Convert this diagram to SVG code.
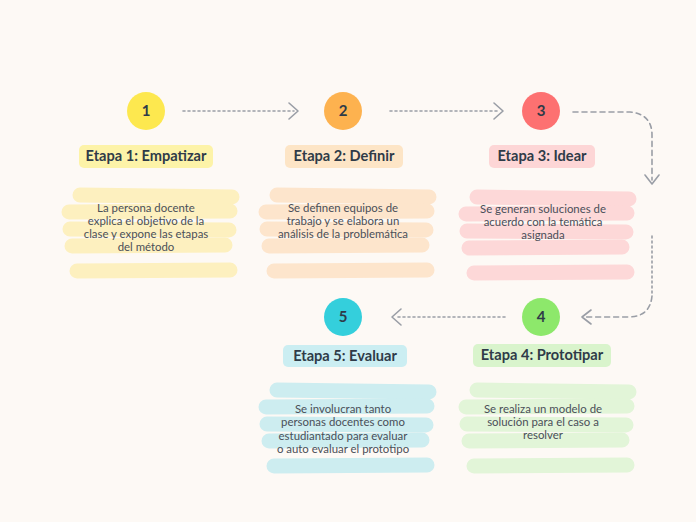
<svg xmlns="http://www.w3.org/2000/svg" width="696" height="522" viewBox="0 0 696 522">
<style>
.num{font-family:Lato,"Open Sans",sans-serif;font-weight:700;font-size:15px;fill:#2f3b48;text-anchor:middle}
.title{font-family:Lato,"Open Sans",sans-serif;font-weight:700;font-size:14.6px;fill:#2f3b48;text-anchor:middle}
.body{font-family:Lato,"Open Sans",sans-serif;font-size:11.4px;fill:#4a4f58;text-anchor:middle}
.conn{fill:none;stroke:#9a9ea6;stroke-width:1.6;stroke-dasharray:2 3;stroke-linecap:round}
.dash{fill:none;stroke:#9a9ea6;stroke-width:1.6;stroke-dasharray:5 4;stroke-linecap:round}
.head{fill:none;stroke:#9a9ea6;stroke-width:1.6;stroke-linecap:round;stroke-linejoin:round}
.br{fill:none;stroke-width:15;stroke-linecap:round}
</style>
<rect width="696" height="522" fill="#fdf9f5"/>
<defs>
<g id="strokes">
<path class="br" d="M-66 195 L86 197"/>
<path class="br" d="M-77 212 L84 211"/>
<path class="br" d="M-76 229 L83 230"/>
<path class="br" d="M-74 246 L79 245"/>
<path class="br" d="M-69 271 L84 270"/>
</g>
</defs>
<g id="connectors">
<path class="conn" d="M183 111 L294 111"/>
<path class="head" d="M289 103 L298 111 L289 119"/>
<path class="conn" d="M390 111 L499 111"/>
<path class="head" d="M494 103 L503 111 L494 119"/>
<path class="dash" d="M573 112 L630 112 Q652 114 652 135 L652 180"/>
<path class="head" d="M645 175 L652 184 L659 175"/>
<path class="conn" d="M652 236 L652 296"/>
<path class="dash" d="M652 296 Q650 317 628 317 L586 317"/>
<path class="head" d="M591 310 L582 317 L591 324"/>
<path class="conn" d="M505 317 L396 317"/>
<path class="head" d="M401 309 L392 317 L401 325"/>
</g>
<g id="node1">
<use href="#strokes" transform="translate(146,0)" stroke="#fdf0bf"/>
<circle cx="146" cy="111" r="19" fill="#fde84f"/>
<text class="num" x="146" y="116">1</text>
<rect x="79" y="145" width="134" height="23" rx="5" fill="#fdf3a8"/>
<text class="title" x="146" y="161">Etapa 1: Empatizar</text>
<text class="body" x="146" y="212">La persona docente</text>
<text class="body" x="146" y="225">explica el objetivo de la</text>
<text class="body" x="146" y="238">clase y expone las etapas</text>
<text class="body" x="146" y="251">del método</text>
</g>
<g id="node2">
<use href="#strokes" transform="translate(343,0)" stroke="#fde5cc"/>
<circle cx="343" cy="111" r="19" fill="#fdb24f"/>
<text class="num" x="343" y="116">2</text>
<rect x="285" y="145" width="118" height="23" rx="5" fill="#fde5c6"/>
<text class="title" x="344" y="161">Etapa 2: Definir</text>
<text class="body" x="343" y="212">Se definen equipos de</text>
<text class="body" x="343" y="225">trabajo y se elabora un</text>
<text class="body" x="343" y="238">análisis de la problemática</text>
</g>
<g id="node3">
<use href="#strokes" transform="translate(543,2)" stroke="#fdd8d8"/>
<circle cx="541" cy="111" r="19" fill="#fd7171"/>
<text class="num" x="541" y="116">3</text>
<rect x="489" y="145" width="106" height="23" rx="5" fill="#fdd6d6"/>
<text class="title" x="542" y="161">Etapa 3: Idear</text>
<text class="body" x="543" y="213">Se generan soluciones de</text>
<text class="body" x="543" y="226">acuerdo con la temática</text>
<text class="body" x="543" y="239">asignada</text>
</g>
<g id="node4">
<use href="#strokes" transform="translate(543,195)" stroke="#e2f5d8"/>
<circle cx="541" cy="317" r="19" fill="#8de86b"/>
<text class="num" x="541" y="322">4</text>
<rect x="473" y="344" width="138" height="23" rx="5" fill="#d9f4cc"/>
<text class="title" x="542" y="360">Etapa 4: Prototipar</text>
<text class="body" x="543" y="413">Se realiza un modelo de</text>
<text class="body" x="543" y="426">solución para el caso a</text>
<text class="body" x="543" y="439">resolver</text>
</g>
<g id="node5">
<use href="#strokes" transform="translate(343,195)" stroke="#cdedf0"/>
<circle cx="343" cy="317" r="19" fill="#34cfdc"/>
<text class="num" x="343" y="322">5</text>
<rect x="283" y="345" width="124" height="22" rx="5" fill="#cbeef2"/>
<text class="title" x="345" y="361">Etapa 5: Evaluar</text>
<text class="body" x="343" y="413">Se involucran tanto</text>
<text class="body" x="343" y="426">personas docentes como</text>
<text class="body" x="343" y="440">estudiantado para evaluar</text>
<text class="body" x="343" y="453">o auto evaluar el prototipo</text>
</g>
</svg>
